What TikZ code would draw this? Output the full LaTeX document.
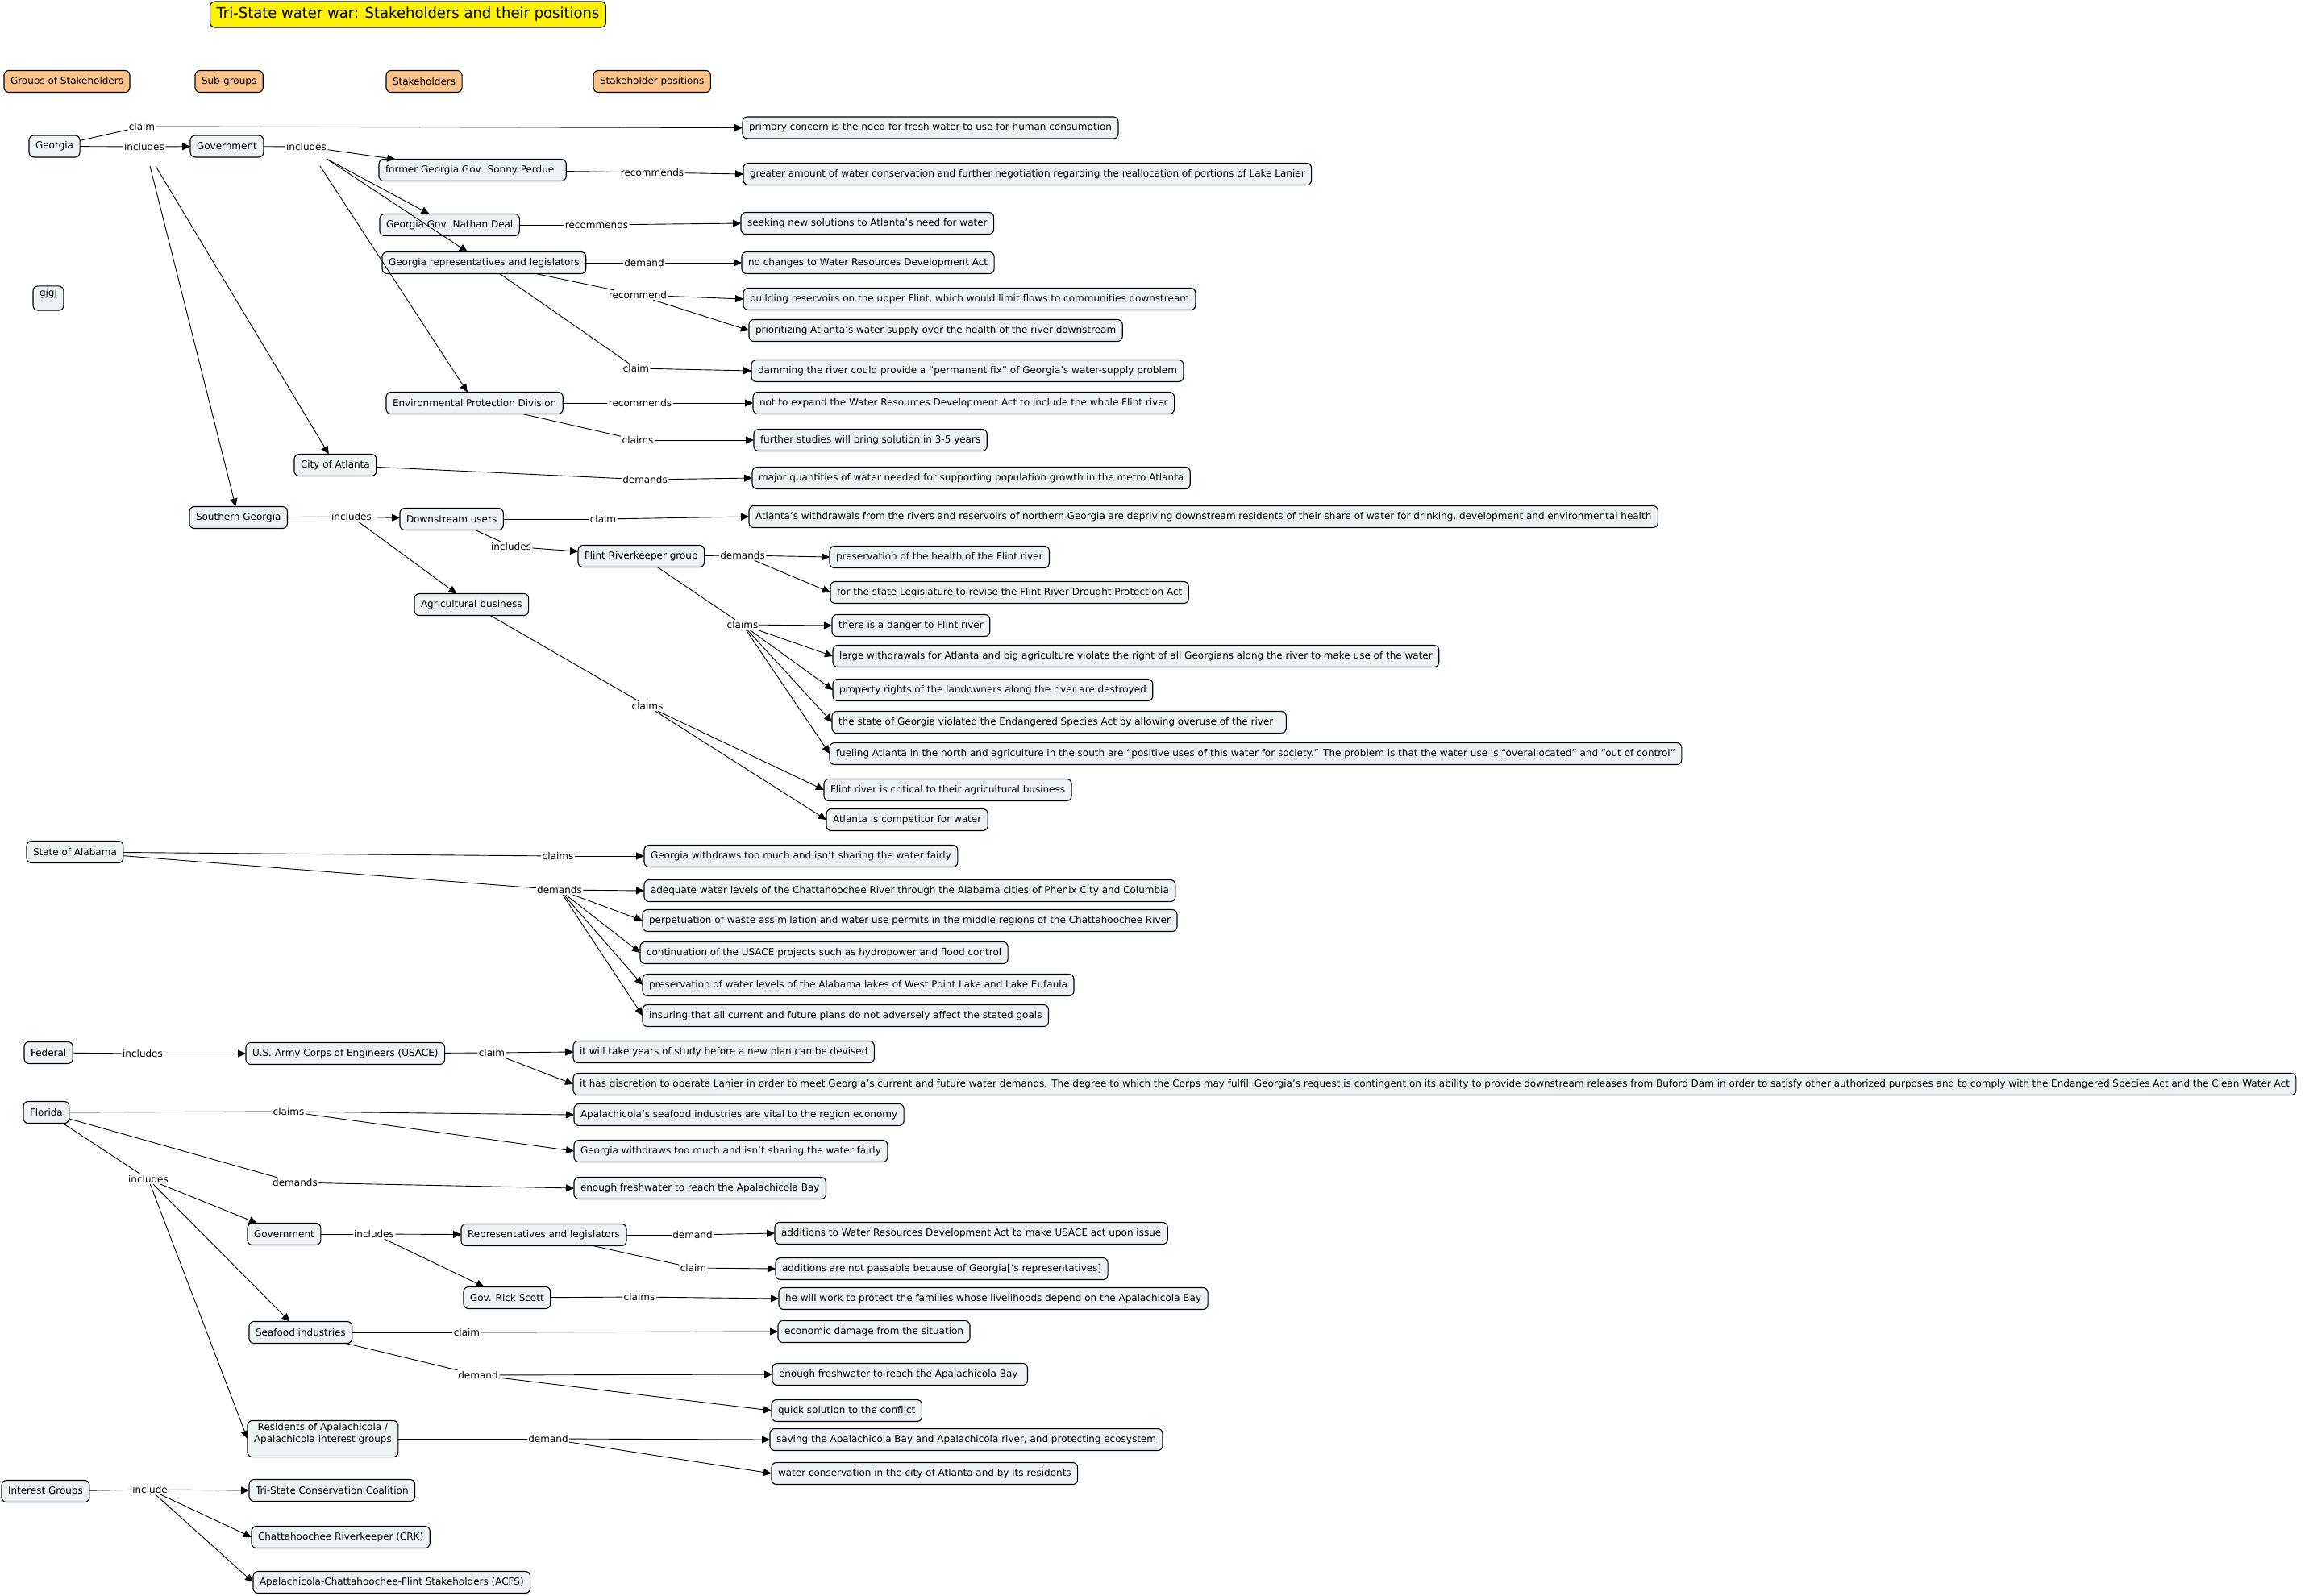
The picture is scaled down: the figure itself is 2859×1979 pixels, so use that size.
\documentclass[tikz,border=0pt]{standalone}
\usepackage{fontspec}
\setmainfont{DejaVu Sans}
\usepackage{tikz}
\usetikzlibrary{arrows.meta, positioning, calc}

\definecolor{boxfill}{RGB}{237,243,245}
\definecolor{headfill}{RGB}{252,194,140}

\begin{document}
\begin{tikzpicture}[x=1pt, y=-1pt,
    every node/.style={outer sep=0pt, font=\fontsize{12}{15}\selectfont},
    box/.style={draw, line width=1.1pt, rounded corners=6pt, fill=boxfill, minimum height=27pt, inner xsep=8pt, inner ysep=3pt, anchor=west, align=center},
    head/.style={box, fill=headfill},
    titlebox/.style={draw, line width=1.1pt, rounded corners=6pt, fill=yellow, minimum height=32pt, inner xsep=8pt, inner ysep=3pt, font=\fontsize{18}{21}\selectfont},
    lbl/.style={inner sep=1.5pt},
    link/.style={line width=0.9pt},
    arr/.style={link, -{Triangle[length=10pt, width=9pt]}}]
    % Canvas
    \fill[white] (0,0) rectangle (2859,1979);
    \useasboundingbox (0,0) rectangle (2859,1979);

    % Title and column headers
    \node[titlebox] (title) at (506,18) {Tri-State water war: Stakeholders and their positions};
    \node[head] (hgroups) at (5,101) {Groups of Stakeholders};
    \node[head] (hsub) at (242,101) {Sub-groups};
    \node[head] (hstake) at (479,101) {Stakeholders};
    \node[head] (hpos) at (736,101) {Stakeholder positions};

    % Georgia
    \node[box] (georgia) at (36,181.5) {Georgia};
    \node[box] (gjgj) at (41,370) {gjgj\\\mbox{}};
    \node[box] (gaGov) at (236,181.5) {Government};
    \node[box] (perdue) at (470,211) {former Georgia Gov. Sonny Perdue\hspace{7pt}};
    \node[box] (deal) at (471,279) {Georgia Gov. Nathan Deal};
    \node[box] (gaReps) at (474,326) {Georgia representatives and legislators};
    \node[box] (epd) at (479,500) {Environmental Protection Division};
    \node[box] (atlanta) at (365,577) {City of Atlanta};
    \node[box] (southGa) at (235,642) {Southern Georgia};
    \node[box] (downstream) at (496,644) {Downstream users};
    \node[box] (flint) at (717,690) {Flint Riverkeeper group};
    \node[box] (agri) at (514,750) {Agricultural business};

    \node[box] (primary) at (921,158.5) {primary concern is the need for fresh water to use for human consumption};
    \node[box] (greater) at (922,216) {greater amount of water conservation and further negotiation regarding the reallocation of portions of Lake Lanier};
    \node[box] (seeking) at (919,277) {seeking new solutions to Atlanta's need for water};
    \node[box] (noChanges) at (920,326) {no changes to Water Resources Development Act};
    \node[box] (building) at (922,371) {building reservoirs on the upper Flint, which would limit flows to communities downstream};
    \node[box] (prioritizing) at (929,410) {prioritizing Atlanta’s water supply over the health of the river downstream};
    \node[box] (damming) at (932,460) {damming the river could provide a “permanent fix” of Georgia’s water-supply problem};
    \node[box] (notExpand) at (934,500) {not to expand the Water Resources Development Act to include the whole Flint river};
    \node[box] (further) at (935,546) {further studies will bring solution in 3-5 years};
    \node[box] (major) at (933,593) {major quantities of water needed for supporting population growth in the metro Atlanta};
    \node[box] (withdrawals) at (929,641) {Atlanta’s withdrawals from the rivers and reservoirs of northern Georgia are depriving downstream residents of their share of water for drinking, development and environmental health};
    \node[box] (preservation) at (1029,691) {preservation of the health of the Flint river};
    \node[box] (legislature) at (1030,735) {for the state Legislature to revise the Flint River Drought Protection Act};
    \node[box] (danger) at (1032,776) {there is a danger to Flint river};
    \node[box] (large) at (1033,814) {large withdrawals for Atlanta and big agriculture violate the right of all Georgians along the river to make use of the water};
    \node[box] (property) at (1033,856) {property rights of the landowners along the river are destroyed};
    \node[box] (violated) at (1032,896) {the state of Georgia violated the Endangered Species Act by allowing overuse of the river\hspace{8pt}};
    \node[box] (fueling) at (1029,935) {fueling Atlanta in the north and agriculture in the south are “positive uses of this water for society.” The problem is that the water use is “overallocated” and “out of control”};
    \node[box] (critical) at (1022,980) {Flint river is critical to their agricultural business};
    \node[box] (competitor) at (1025,1017) {Atlanta is competitor for water};

    \node[lbl] (gaClaim) at (176,157) {claim};
    \node[lbl] (gaIncl) at (179,182) {includes};
    \node[lbl] (govIncl) at (380,182) {includes};
    \node[lbl] (perdueRec) at (809,214) {recommends};
    \node[lbl] (dealRec) at (740,279) {recommends};
    \node[lbl] (repsDemand) at (799,326) {demand};
    \node[lbl] (repsRec) at (791,366) {recommend};
    \node[lbl] (repsClaim) at (789,457) {claim};
    \node[lbl] (epdRec) at (794,500) {recommends};
    \node[lbl] (epdClaims) at (791,546) {claims};
    \node[lbl] (atlDemands) at (800,595) {demands};
    \node[lbl] (sgIncl) at (436,641) {includes};
    \node[lbl] (dsClaim) at (748,644) {claim};
    \node[lbl] (dsIncl) at (634,678) {includes};
    \node[lbl] (flDemands) at (921,689) {demands};
    \node[lbl] (flintClaims) at (921,775) {claims};
    \node[lbl] (agriClaims) at (803,876) {claims};

    % loose line ends below the two includes labels
    \coordinate (gaInclA) at (186,206);
    \coordinate (gaInclB) at (193,206);
    \coordinate (govInclA) at (405,197);
    \coordinate (govInclB) at (397,206);

    \draw[link] (georgia) -- (gaClaim);
    \draw[arr] (gaClaim) -- (primary.west);
    \draw[link] (georgia) -- (gaIncl);
    \draw[arr] (gaIncl) -- (gaGov);
    \draw[arr] (gaInclB) -- (atlanta);
    \draw[arr] (gaInclA) -- (southGa);
    \draw[link] (gaGov) -- (govIncl);
    \draw[arr] (govIncl) -- (perdue);
    \draw[arr] (govInclA) -- (deal);
    \draw[arr] (govInclA) -- (gaReps);
    \draw[arr] (govInclB) -- (epd);
    \draw[link] (perdue) -- (perdueRec);
    \draw[arr] (perdueRec) -- (greater.west);
    \draw[link] (deal) -- (dealRec);
    \draw[arr] (dealRec) -- (seeking.west);
    \draw[link] (gaReps) -- (repsDemand);
    \draw[arr] (repsDemand) -- (noChanges.west);
    \draw[link] (gaReps) -- (repsRec);
    \draw[arr] (repsRec) -- (building.west);
    \draw[arr] (repsRec) -- (prioritizing.west);
    \draw[link] (gaReps) -- (repsClaim);
    \draw[arr] (repsClaim) -- (damming.west);
    \draw[link] (epd) -- (epdRec);
    \draw[arr] (epdRec) -- (notExpand.west);
    \draw[link] (epd) -- (epdClaims);
    \draw[arr] (epdClaims) -- (further.west);
    \draw[link] (atlanta) -- (atlDemands);
    \draw[arr] (atlDemands) -- (major.west);
    \draw[link] (southGa) -- (sgIncl);
    \draw[arr] (sgIncl) -- (downstream);
    \draw[arr] (sgIncl) -- (agri);
    \draw[link] (downstream) -- (dsClaim);
    \draw[arr] (dsClaim) -- (withdrawals.west);
    \draw[link] (downstream) -- (dsIncl);
    \draw[arr] (dsIncl) -- (flint);
    \draw[link] (flint) -- (flDemands);
    \draw[arr] (flDemands) -- (preservation.west);
    \draw[arr] (flDemands) -- (legislature.west);
    \draw[link] (flint) -- (flintClaims);
    \draw[arr] (flintClaims) -- (danger.west);
    \draw[arr] (flintClaims) -- (large.west);
    \draw[arr] (flintClaims) -- (property.west);
    \draw[arr] (flintClaims) -- (violated.west);
    \draw[arr] (flintClaims) -- (fueling.west);
    \draw[link] (agri) -- (agriClaims);
    \draw[arr] (agriClaims) -- (critical.west);
    \draw[arr] (agriClaims) -- (competitor.west);

    % Alabama
    \node[box] (alabama) at (33,1057) {State of Alabama};
    \node[box] (alGaWithdraws) at (799,1062) {Georgia withdraws too much and isn’t sharing the water fairly};
    \node[box] (adequate) at (799,1105) {adequate water levels of the Chattahoochee River through the Alabama cities of Phenix City and Columbia};
    \node[box] (perpetuation) at (797,1142) {perpetuation of waste assimilation and water use permits in the middle regions of the Chattahoochee River};
    \node[box] (continuation) at (794,1182) {continuation of the USACE projects such as hydropower and flood control};
    \node[box] (lakes) at (797,1222) {preservation of water levels of the Alabama lakes of West Point Lake and Lake Eufaula};
    \node[box] (insuring) at (797,1260) {insuring that all current and future plans do not adversely affect the stated goals};

    \node[lbl] (alClaims) at (692,1062) {claims};
    \node[lbl] (alDemands) at (694,1104) {demands};

    \draw[link] (alabama) -- (alClaims);
    \draw[arr] (alClaims) -- (alGaWithdraws.west);
    \draw[link] (alabama) -- (alDemands);
    \draw[arr] (alDemands) -- (adequate.west);
    \draw[arr] (alDemands) -- (perpetuation.west);
    \draw[arr] (alDemands) -- (continuation.west);
    \draw[arr] (alDemands) -- (lakes.west);
    \draw[arr] (alDemands) -- (insuring.west);

    % Federal
    \node[box] (federal) at (30,1306) {Federal};
    \node[box] (usace) at (305,1307) {U.S. Army Corps of Engineers (USACE)};
    \node[box] (years) at (711,1305) {it will take years of study before a new plan can be devised};
    \node[box] (discretion) at (711,1345) {it has discretion to operate Lanier in order to meet Georgia’s current and future water demands. The degree to which the Corps may fulfill Georgia’s request is contingent on its ability to provide downstream releases from Buford Dam in order to satisfy other authorized purposes and to comply with the Endangered Species Act and the Clean Water Act};

    \node[lbl] (fedIncl) at (177,1307) {includes};
    \node[lbl] (usClaim) at (610,1306) {claim};

    \draw[link] (federal) -- (fedIncl);
    \draw[arr] (fedIncl) -- (usace);
    \draw[link] (usace) -- (usClaim);
    \draw[arr] (usClaim) -- (years.west);
    \draw[arr] (usClaim) -- (discretion.west);

    % Florida
    \node[box] (florida) at (29,1380) {Florida};
    \node[box] (apalach) at (712,1383) {Apalachicola's seafood industries are vital to the region economy};
    \node[box] (flGaWithdraws) at (712,1428) {Georgia withdraws too much and isn’t sharing the water fairly};
    \node[box] (flEnough) at (712,1474) {enough freshwater to reach the Apalachicola Bay};
    \node[box] (flGov) at (307,1531) {Government};
    \node[box] (flReps) at (572,1532) {Representatives and legislators};
    \node[box] (additions) at (961,1530) {additions to Water Resources Development Act to make USACE act upon issue};
    \node[box] (notPassable) at (962,1574) {additions are not passable because of Georgia[‘s representatives]};
    \node[box] (scott) at (575,1610) {Gov. Rick Scott};
    \node[box] (heWill) at (966,1611) {he will work to protect the families whose livelihoods depend on the Apalachicola Bay};
    \node[box] (seafood) at (309,1653) {Seafood industries};
    \node[box] (economic) at (965,1652) {economic damage from the situation};
    \node[box] (sfEnough) at (958,1705) {enough freshwater to reach the Apalachicola Bay\hspace{4pt}};
    \node[box] (quick) at (957,1750) {quick solution to the conflict};
    \node[box] (residents) at (307,1785) {Residents of Apalachicola /\\Apalachicola interest groups\\\mbox{}};
    \node[box] (saving) at (955,1786) {saving the Apalachicola Bay and Apalachicola river, and protecting ecosystem};
    \node[box] (conservation) at (957,1828) {water conservation in the city of Atlanta and by its residents};

    \node[lbl] (flClaims) at (358,1379) {claims};
    \node[lbl] (flDemandsL) at (366,1467) {demands};
    \node[lbl] (flIncl) at (184,1463) {includes};
    \node[lbl] (flGovIncl) at (464,1531) {includes};
    \node[lbl] (flRepsDemand) at (859,1532) {demand};
    \node[lbl] (flRepsClaim) at (860,1573) {claim};
    \node[lbl] (scottClaims) at (793,1609) {claims};
    \node[lbl] (sfClaim) at (579,1653) {claim};
    \node[lbl] (sfDemand) at (593,1706) {demand};
    \node[lbl] (resDemand) at (680,1785) {demand};

    \draw[link] (florida) -- (flClaims);
    \draw[arr] (flClaims) -- (apalach.west);
    \draw[arr] (flClaims) -- (flGaWithdraws.west);
    \draw[link] (florida) -- (flDemandsL);
    \draw[arr] (flDemandsL) -- (flEnough.west);
    \draw[link] (florida) -- (flIncl);
    \draw[arr] (flIncl) -- (flGov);
    \draw[arr] (flIncl) -- (seafood);
    \draw[arr] (flIncl) -- (residents.west);
    \draw[link] (flGov) -- (flGovIncl);
    \draw[arr] (flGovIncl) -- (flReps);
    \draw[arr] (flGovIncl) -- (scott);
    \draw[link] (flReps) -- (flRepsDemand);
    \draw[arr] (flRepsDemand) -- (additions.west);
    \draw[link] (flReps) -- (flRepsClaim);
    \draw[arr] (flRepsClaim) -- (notPassable.west);
    \draw[link] (scott) -- (scottClaims);
    \draw[arr] (scottClaims) -- (heWill.west);
    \draw[link] (seafood) -- (sfClaim);
    \draw[arr] (sfClaim) -- (economic.west);
    \draw[link] (seafood) -- (sfDemand);
    \draw[arr] (sfDemand) -- (sfEnough.west);
    \draw[arr] (sfDemand) -- (quick.west);
    \draw[link] (residents) -- (resDemand);
    \draw[arr] (resDemand) -- (saving.west);
    \draw[arr] (resDemand) -- (conservation.west);

    % Interest groups
    \node[box] (interest) at (2,1850) {Interest Groups};
    \node[box] (tristate) at (309,1849) {Tri-State Conservation Coalition};
    \node[box] (crk) at (312,1907) {Chattahoochee Riverkeeper (CRK)};
    \node[box] (acfs) at (314,1963) {Apalachicola-Chattahoochee-Flint Stakeholders (ACFS)};

    \node[lbl] (igIncl) at (186,1848) {include};

    \draw[link] (interest) -- (igIncl);
    \draw[arr] (igIncl) -- (tristate.west);
    \draw[arr] (igIncl) -- (crk.west);
    \draw[arr] (igIncl) -- (acfs.west);
\end{tikzpicture}
\end{document}
